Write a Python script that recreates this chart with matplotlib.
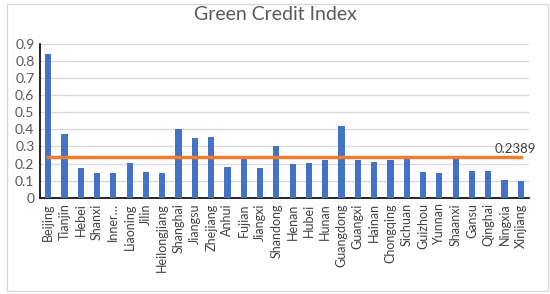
import matplotlib
matplotlib.use("Agg")
import matplotlib.pyplot as plt
from matplotlib.patches import Rectangle

plt.rcParams['font.family'] = ['Lato', 'DejaVu Sans']

provinces = ["Beijing", "Tianjin", "Hebei", "Shanxi", "Inner…", "Liaoning", "Jilin",
             "Heilongjiang", "Shanghai", "Jiangsu", "Zhejiang", "Anhui", "Fujian",
             "Jiangxi", "Shandong", "Henan", "Hubei", "Hunan", "Guangdong", "Guangxi",
             "Hainan", "Chongqing", "Sichuan", "Guizhou", "Yunnan", "Shaanxi", "Gansu",
             "Qinghai", "Ningxia", "Xinjiang"]
values = [0.840, 0.375, 0.172, 0.146, 0.143, 0.205, 0.150, 0.145, 0.402, 0.351,
          0.355, 0.180, 0.232, 0.172, 0.305, 0.199, 0.205, 0.219, 0.420, 0.223,
          0.207, 0.219, 0.229, 0.150, 0.143, 0.227, 0.156, 0.156, 0.104, 0.098]
mean_value = 0.2389
yticks = [0, 0.1, 0.2, 0.3, 0.4, 0.5, 0.6, 0.7, 0.8, 0.9]

fig = plt.figure(figsize=(5.5, 2.94), dpi=100)
fig.patches.append(Rectangle((7/550, 3/294), 541/550, 287/294, transform=fig.transFigure,
                             fill=False, edgecolor='#D9D9D9', linewidth=1))
ax = fig.add_axes([40/550, 1-197.7/294, 489/550, (197.7-44)/294])
x = list(range(len(provinces)))
ax.bar(x, values, width=0.38, color='#4472C4', zorder=3)
ax.plot([x[0], x[-1]], [mean_value, mean_value], color='#ED7D31', linewidth=2.5, zorder=4)
ax.text(x[-1] + 0.95, mean_value + 0.01, f"{mean_value:.4f}", ha='right', va='bottom',
        fontsize=9.5, color='#404040', zorder=5, clip_on=False)

ax.set_xlim(-0.5, len(provinces) - 0.5)
ax.set_ylim(0, 0.9)
ax.set_yticks(yticks)
ax.set_yticklabels([f"{t:g}" for t in yticks], fontsize=10, color='#595959')
ax.set_xticks(x)
ax.set_xticklabels(provinces, rotation=90, fontsize=9, color='#404040')
ax.tick_params(axis='both', length=0, pad=4)
ax.yaxis.grid(True, color='#D9D9D9', linewidth=0.9, zorder=0)
for s in ['top', 'right']:
    ax.spines[s].set_visible(False)
ax.spines['left'].set_color('black')
ax.spines['bottom'].set_color('black')
ax.spines['left'].set_linewidth(1.2)
ax.spines['bottom'].set_linewidth(1.2)
fig.text(0.5, 1-14/294, "Green Credit Index", ha='center', va='center', fontsize=14, color='#595959')
fig.savefig("out.png", dpi=100)
